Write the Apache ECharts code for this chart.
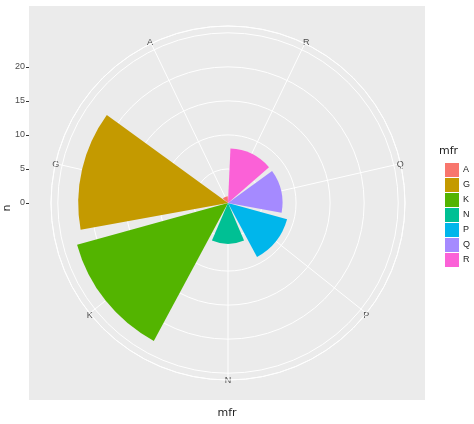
<!DOCTYPE html>
<html><head><meta charset="utf-8">
<script src="https://cdn.jsdelivr.net/npm/echarts@6/dist/echarts.min.js"></script>
<style>html,body{margin:0;padding:0;background:#fff}#c{width:474px;height:424px}</style>
</head><body><div id="c"></div>
<script>
var categories = ['A','G','K','N','P','Q','R'];
var values = [1, 22, 23, 6, 9, 8, 8];
var colors = ['#F8766D','#C49A00','#53B400','#00C094','#00B6EB','#A58AFF','#FB61D7'];
var yTicks = [0,5,10,15,20];

var chart = echarts.init(document.getElementById('c'));
var cx = 228, cy = 203, R = 177, rMax = 26;
var series = categories.map(function(c, i){
  var d = categories.map(function(_, j){ return j === i ? values[i] : null; });
  return {type:'bar', name:c, coordinateSystem:'polar', polarIndex:1, stack:'s', data:d,
    barCategoryGap:'10%', itemStyle:{color:colors[i]}, z:5};
});
series.push({type:'line', xAxisIndex:0, yAxisIndex:0, data:[], silent:true});
chart.setOption({
  animation:false,
  graphic:[
    {type:'rect', shape:{x:29,y:6,width:396,height:394}, style:{fill:'#EBEBEB'}, z:-10},
    {type:'text', x:7, y:208, rotation:Math.PI/2, style:{text:'n', fill:'#222', font:'11px "DejaVu Sans"', textAlign:'center', textVerticalAlign:'middle'}},
    {type:'text', x:227, y:413, style:{text:'mfr', fill:'#222', font:'11px "DejaVu Sans"', textAlign:'center', textVerticalAlign:'middle'}},
    {type:'text', x:439, y:151, style:{text:'mfr', fill:'#222', font:'11px "DejaVu Sans"', textAlign:'left', textVerticalAlign:'middle'}}
  ],
  grid:{left:29, top:67, height:136, width:1},
  xAxis:{type:'value', show:false},
  yAxis:{type:'value', min:0, max:20, interval:5, position:'left',
    axisLine:{show:false}, splitLine:{show:false},
    axisTick:{show:true, length:3, lineStyle:{color:'#333'}},
    axisLabel:{color:'#4D4D4D', fontSize:9, margin:4}},
  polar:[
    {center:[cx,cy], radius:R},
    {center:[cx,cy], radius:R}
  ],
  angleAxis:[
    {polarIndex:0, type:'value', min:0, max:360, interval:360/7, startAngle:90+180/7, clockwise:false,
      axisLine:{show:true, lineStyle:{color:'#fff', width:1}}, axisTick:{show:false}, axisLabel:{show:false},
      splitLine:{show:true, lineStyle:{color:'#fff', width:1}}},
    {polarIndex:1, type:'category', data:categories, startAngle:90, clockwise:false,
      axisLine:{show:false}, axisTick:{show:false}, splitLine:{show:false},
      axisLabel:{color:'#4D4D4D', fontSize:9, margin:-4}}
  ],
  radiusAxis:[
    {polarIndex:0, type:'value', min:0, max:rMax, interval:5, axisLine:{show:false}, axisTick:{show:false}, axisLabel:{show:false},
      splitLine:{show:true, lineStyle:{color:'#fff', width:1}}},
    {polarIndex:1, type:'value', min:0, max:rMax, show:false, splitLine:{show:false}}
  ],
  legend:{orient:'vertical', left:440, top:158, itemWidth:14, itemHeight:14, itemGap:1, icon:'rect',
    data:categories, textStyle:{color:'#222', fontSize:9, padding:[0,0,0,-1]}},
  series:series
});
</script></body></html>
